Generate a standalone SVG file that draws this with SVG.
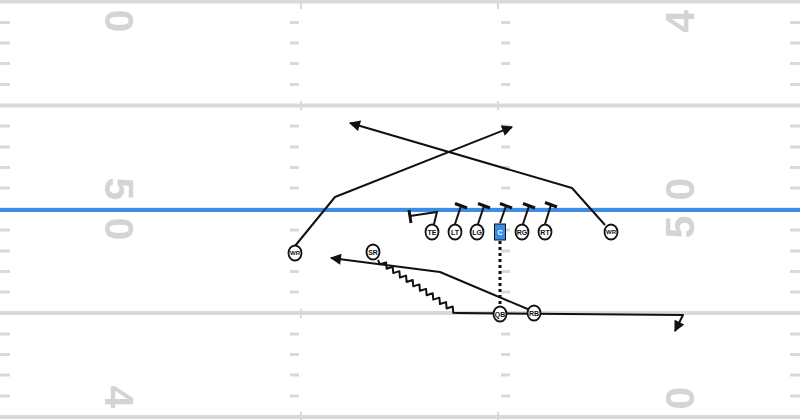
<svg xmlns="http://www.w3.org/2000/svg" width="800" height="420" viewBox="0 0 800 420">
<defs>
<marker id="arrow" viewBox="0 0 10 10" refX="9" refY="5" markerWidth="6" markerHeight="5.5" orient="auto" markerUnits="strokeWidth">
<path d="M0,0 L10,5 L0,10 z" fill="#111"/>
</marker>
<style>
.yard{stroke:#d9d9d9;stroke-width:4;}
.tick{stroke:#d9d9d9;stroke-width:2;}
.hash{stroke:#d9d9d9;stroke-width:3;}
.num{font-family:"Liberation Sans",Arial,sans-serif;font-weight:bold;font-size:41px;fill:#d4d4d4;text-anchor:middle;dominant-baseline:central;}
.p{fill:#fff;stroke:#111;stroke-width:1.8;}
.lbl{font-family:"Liberation Sans",Arial,sans-serif;font-weight:bold;font-size:7px;fill:#111;text-anchor:middle;dominant-baseline:central;}
.route{fill:none;stroke:#111;stroke-width:2;stroke-linejoin:round;}
.blk{fill:none;stroke:#111;stroke-width:2;}
.bar{stroke:#111;stroke-width:3;}
</style>
</defs>
<rect x="0" y="0" width="800" height="420" fill="#fff"/>
<g id="field">
<line class="yard" x1="0" y1="1.5" x2="800" y2="1.5"/>
<line class="yard" x1="0" y1="105.5" x2="800" y2="105.5"/>
<line class="yard" x1="0" y1="209.5" x2="800" y2="209.5"/>
<line class="yard" x1="0" y1="313" x2="800" y2="313"/>
<line class="yard" x1="0" y1="417" x2="800" y2="417"/>
<g class="tick">
<line x1="301" y1="0" x2="301" y2="9"/><line x1="498" y1="0" x2="498" y2="9"/>
<line x1="301" y1="101" x2="301" y2="110"/><line x1="498" y1="101" x2="498" y2="110"/>
<line x1="301" y1="309" x2="301" y2="318"/><line x1="498" y1="309" x2="498" y2="318"/>
<line x1="301" y1="412" x2="301" y2="420"/><line x1="498" y1="412" x2="498" y2="420"/>
</g>
<g class="hash">
<path d="M0,22.5h10M0,43h10M0,63.5h10M0,84.5h10M0,126h10M0,147h10M0,167.5h10M0,188h10M0,230h10M0,251h10M0,271.5h10M0,292h10M0,334h10M0,354.5h10M0,375h10M0,396h10"/>
<path d="M790,22.5h10M790,43h10M790,63.5h10M790,84.5h10M790,126h10M790,147h10M790,167.5h10M790,188h10M790,230h10M790,251h10M790,271.5h10M790,292h10M790,334h10M790,354.5h10M790,375h10M790,396h10"/>
<path d="M290,22.5h9M290,43h9M290,63.5h9M290,84.5h9M290,126h9M290,147h9M290,167.5h9M290,188h9M290,230h9M290,251h9M290,271.5h9M290,292h9M290,334h9M290,354.5h9M290,375h9M290,396h9"/>
<path d="M501,22.5h9M501,43h9M501,63.5h9M501,84.5h9M501,126h9M501,147h9M501,167.5h9M501,188h9M501,230h9M501,251h9M501,271.5h9M501,292h9M501,334h9M501,354.5h9M501,375h9M501,396h9"/>
</g>
<text class="num" transform="translate(119,21) rotate(90)">0</text>
<text class="num" transform="translate(119,189) rotate(90)">5</text>
<text class="num" transform="translate(119,229) rotate(90)">0</text>
<text class="num" transform="translate(119,397) rotate(90)">4</text>
<text class="num" transform="translate(680,21) rotate(-90)">4</text>
<text class="num" transform="translate(680,189) rotate(-90)">0</text>
<text class="num" transform="translate(680,227) rotate(-90)">5</text>
<text class="num" transform="translate(680,398) rotate(-90)">0</text>
<line x1="0" y1="210" x2="800" y2="210" stroke="#3b8de6" stroke-width="4"/>
</g>
<g id="connectors">
<polyline class="route" points="295,246 335,197 512,127" marker-end="url(#arrow)"/>
<polyline class="route" points="605,225 572,188 350,123" marker-end="url(#arrow)"/>
<polyline class="route" points="530,310 440,272 331,258" marker-end="url(#arrow)"/>
<polyline class="route" stroke-width="1.4" points="378,260 379.95,264.29 386.05,262.34 386.62,268.71 392.71,266.75 393.29,273.12 399.38,271.17 399.95,277.54 406.05,275.59 406.62,281.96 412.71,280 413.29,286.37 419.38,284.42 419.95,290.79 426.05,288.84 426.62,295.21 432.71,293.25 433.29,299.62 439.38,297.67 439.95,304.04 446.05,302.09 446.62,308.46 452.71,306.5 453.29,312.87 458,313"/>
<polyline class="route" points="458,313 683,315 675,331" marker-end="url(#arrow)"/>
<line x1="500" y1="241" x2="500" y2="306" stroke="#111" stroke-width="3" stroke-dasharray="3,3"/>
<polyline class="blk" points="434,224 437,212 410,216"/>
<line class="bar" x1="409" y1="210" x2="411" y2="223"/>
<line class="blk" x1="455" y1="224" x2="461" y2="206"/>
<line class="bar" x1="455" y1="203.5" x2="467" y2="208"/>
<line class="blk" x1="478" y1="224" x2="484" y2="206"/>
<line class="bar" x1="478" y1="203.5" x2="490" y2="208"/>
<line class="blk" x1="500" y1="223" x2="506" y2="206"/>
<line class="bar" x1="500" y1="203.5" x2="512" y2="208"/>
<line class="blk" x1="523" y1="224" x2="529" y2="206"/>
<line class="bar" x1="523" y1="203.5" x2="535" y2="208"/>
<line class="blk" x1="545" y1="224" x2="551" y2="205"/>
<line class="bar" x1="545" y1="202.5" x2="557" y2="207"/>
</g>
<g id="TE"><ellipse class="p" cx="432" cy="232" rx="6.5" ry="7.5"/><text class="lbl" x="432" y="232">TE</text></g>
<g id="LT"><ellipse class="p" cx="455" cy="232" rx="6.5" ry="7.5"/><text class="lbl" x="455" y="232">LT</text></g>
<g id="LG"><ellipse class="p" cx="477" cy="232" rx="6.5" ry="7.5"/><text class="lbl" x="477" y="232">LG</text></g>
<g id="C"><rect x="494.5" y="224" width="11" height="16" fill="#3b8de6" stroke="#111" stroke-width="1"/><text class="lbl" x="500" y="232" style="fill:#fff">C</text></g>
<g id="RG"><ellipse class="p" cx="522" cy="232" rx="6.5" ry="7.5"/><text class="lbl" x="522" y="232">RG</text></g>
<g id="RT"><ellipse class="p" cx="545" cy="232" rx="6.5" ry="7.5"/><text class="lbl" x="545" y="232">RT</text></g>
<g id="WR-right"><ellipse class="p" cx="611" cy="232" rx="6.5" ry="7.5"/><text class="lbl" x="611" y="232" style="font-size:6px">WR</text></g>
<g id="WR-left"><ellipse class="p" cx="295" cy="253" rx="6.5" ry="7.5"/><text class="lbl" x="295" y="253" style="font-size:6px">WR</text></g>
<g id="SR"><ellipse class="p" cx="373" cy="252" rx="6.5" ry="7.5"/><text class="lbl" x="373" y="252">SR</text></g>
<g id="QB"><ellipse class="p" cx="500" cy="314" rx="6.5" ry="7.5"/><text class="lbl" x="500" y="314">QB</text></g>
<g id="RB"><ellipse class="p" cx="534" cy="313" rx="6.5" ry="7.5"/><text class="lbl" x="534" y="313">RB</text></g>
</svg>
